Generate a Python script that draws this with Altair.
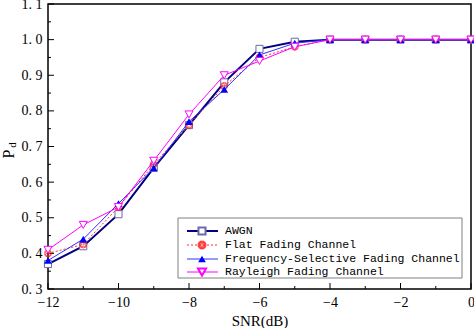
import altair as alt
import pandas as pd

snr = [-12, -11, -10, -9, -8, -7, -6, -5, -4, -3, -2, -1, 0]
awgn = [0.37, 0.42, 0.51, 0.64, 0.76, 0.88, 0.974, 0.994, 1.0, 1.0, 1.0, 1.0, 1.0]
flat = [0.40, 0.425, 0.53, 0.65, 0.76, 0.87, 0.95, 0.98, 1.0, 1.0, 1.0, 1.0, 1.0]
freq = [0.38, 0.44, 0.54, 0.64, 0.77, 0.86, 0.957, 0.99, 1.0, 1.0, 1.0, 1.0, 1.0]
rayl = [0.41, 0.48, 0.53, 0.66, 0.79, 0.90, 0.94, 0.98, 1.0, 1.0, 1.0, 1.0, 1.0]
names = ["AWGN", "Flat Fading Channel", "Frequency-Selective Fading Channel", "Rayleigh Fading Channel"]

x_major = [-12, -10, -8, -6, -4, -2, 0]
x_minor = [-11, -9, -7, -5, -3, -1]
y_major = [0.3, 0.4, 0.5, 0.6, 0.7, 0.8, 0.9, 1.0, 1.1]
y_minor = [0.35, 0.45, 0.55, 0.65, 0.75, 0.85, 0.95, 1.05]

W, H = 423, 285
xs = alt.Scale(domain=[-12, 0], nice=False, zero=False)
ys = alt.Scale(domain=[0.3, 1.1], nice=False, zero=False)
SERIF = "Liberation Serif"
MONO = "Liberation Mono"

x_axis = alt.Axis(values=x_major, ticks=False, grid=False, domain=False,
        labelFont=SERIF, labelFontSize=14, labelColor="black", labelPadding=6, format="d",
        title="SNR(dB)", titleFont=SERIF, titleFontSize=15, titleFontWeight="normal",
        titleColor="black", titlePadding=4, labelFlush=False, labelOverlap=False)
y_axis = alt.Axis(values=y_major, ticks=False, grid=False, domain=False,
        labelFont=SERIF, labelFontSize=14, labelColor="black", labelPadding=6,
        labelExpr="replace(format(datum.value, '.1f'), '.', '. ')", title=None,
        labelFlush=False, labelOverlap=False)

X = alt.X("snr:Q", scale=xs, axis=x_axis)
Y = alt.Y("pd:Q", scale=ys, axis=y_axis)


def df(vals):
    return pd.DataFrame({"snr": snr, "pd": vals})


# inward ticks
def xticks(vals, L):
    return alt.Chart(pd.DataFrame({"snr": vals})).mark_rule(color="black", strokeWidth=1).encode(
        x=X, y=alt.value(H), y2=alt.value(H - L))


def yticks(vals, L):
    return alt.Chart(pd.DataFrame({"pd": vals})).mark_rule(color="black", strokeWidth=1).encode(
        y=Y, x=alt.value(0), x2=alt.value(L))


ticks = xticks(x_major, 6) + xticks(x_minor, 3) + yticks(y_major, 6) + yticks(y_minor, 3)

# series
awgn_line = alt.Chart(df(awgn)).mark_line(color="#000080", strokeWidth=2).encode(x=X, y=Y)
awgn_pts = alt.Chart(df(awgn)).mark_point(shape="square", filled=True, fill="white", stroke="#6a6aaa",
                                           strokeWidth=1, size=50, opacity=1).encode(x=X, y=Y)
flat_line = alt.Chart(df(flat)).mark_line(color="#ff3030", strokeWidth=1, strokeDash=[2, 2]).encode(x=X, y=Y)
flat_pts = alt.Chart(df(flat)).mark_point(shape="circle", filled=False, stroke="#ff2020",
                                          strokeWidth=1, size=50).encode(x=X, y=Y)
flat_x = alt.Chart(df(flat)).mark_point(shape="cross", filled=False, stroke="#ff2020", angle=45,
                                        strokeWidth=1, size=30).encode(x=X, y=Y)
freq_line = alt.Chart(df(freq)).mark_line(color="#3030ff", strokeWidth=1).encode(x=X, y=Y)
freq_pts = alt.Chart(df(freq)).mark_point(shape="triangle-up", filled=True, fill="#0000ff",
                                          size=60, opacity=1).encode(x=X, y=Y)
rayl_line = alt.Chart(df(rayl)).mark_line(color="#ff00ff", strokeWidth=1).encode(x=X, y=Y)
rayl_pts = alt.Chart(df(rayl)).mark_point(shape="triangle-down", filled=True, fill="white", stroke="#ff00ff",
                                          strokeWidth=1, size=65, opacity=1).encode(x=X, y=Y)

# y title P_d
ptitle = alt.Chart(pd.DataFrame({"t": ["P"]})).mark_text(font=SERIF, fontSize=16, angle=270,
                                                         color="black").encode(
    text="t:N", x=alt.value(-39), y=alt.value(150))
dsub = alt.Chart(pd.DataFrame({"t": ["d"]})).mark_text(font=SERIF, fontSize=11, angle=270,
                                                       color="black").encode(
    text="t:N", x=alt.value(-35), y=alt.value(141))

# legend
lx0, lx1, ly0, ly1 = 130, 414, 214, 274
leg_box = alt.Chart(pd.DataFrame({"a": [0]})).mark_rect(fill="white", stroke="#808080", strokeWidth=1).encode(
    x=alt.value(lx0), x2=alt.value(lx1), y=alt.value(ly0), y2=alt.value(ly1))
rows = [227, 241, 255, 268]
leg = leg_box
sx0, sx1, sm, tx = 139, 170, 154, 177
line_styles = [
    dict(color="#000080", strokeWidth=2),
    dict(color="#ff3030", strokeWidth=1, strokeDash=[2, 2]),
    dict(color="#3030ff", strokeWidth=1),
    dict(color="#ff00ff", strokeWidth=1),
]
for i, (name, ry) in enumerate(zip(names, rows)):
    d = pd.DataFrame({"t": [name]})
    leg += alt.Chart(d).mark_rule(**line_styles[i]).encode(
        x=alt.value(sx0), x2=alt.value(sx1), y=alt.value(ry))
    leg += alt.Chart(d).mark_text(font=MONO, fontSize=11.5, align="left", baseline="middle",
                                  color="black").encode(text="t:N", x=alt.value(tx), y=alt.value(ry))
pos = dict(x=alt.value(sm))
one = pd.DataFrame({"a": [0]})
leg += alt.Chart(one).mark_point(shape="square", filled=True, fill="white", stroke="#6a6aaa",
                                 size=50, opacity=1).encode(y=alt.value(rows[0]), **pos)
leg += alt.Chart(one).mark_point(shape="circle", filled=False, stroke="#ff2020", size=50).encode(
    y=alt.value(rows[1]), **pos)
leg += alt.Chart(one).mark_point(shape="cross", filled=False, stroke="#ff2020", angle=45, size=30).encode(
    y=alt.value(rows[1]), **pos)
leg += alt.Chart(one).mark_point(shape="triangle-up", filled=True, fill="#0000ff", size=60, opacity=1).encode(
    y=alt.value(rows[2]), **pos)
leg += alt.Chart(one).mark_point(shape="triangle-down", filled=True, fill="white", stroke="#ff00ff",
                                 size=65, opacity=1).encode(y=alt.value(rows[3]), **pos)

chart = alt.layer(
    ticks,
    awgn_line, awgn_pts, flat_line, flat_pts, flat_x, freq_line, freq_pts, rayl_line, rayl_pts,
    ptitle, dsub, leg,
).properties(
    width=W, height=H,
    autosize=alt.AutoSizeParams(type="none"),
    padding={"left": 48, "top": 4, "right": 3, "bottom": 39},
    background="white",
).configure_view(stroke="black", strokeWidth=1.5)

chart.save("out.html", embed_options={"renderer": "svg", "actions": False})
